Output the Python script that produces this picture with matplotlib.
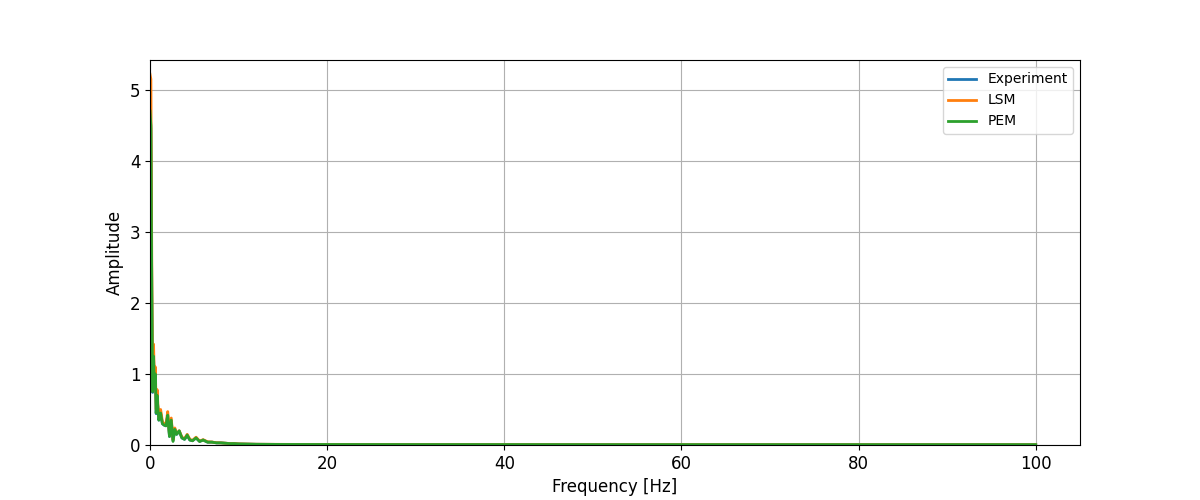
import matplotlib
matplotlib.use("Agg")
import matplotlib.pyplot as plt

# frequency axis (Hz), denser near zero where the spectrum lives
freq = [0.0, 0.1, 0.2, 0.3, 0.4, 0.5, 0.6, 0.7, 0.8, 0.9, 1.0, 1.2, 1.4, 1.6, 1.8,
        2.0, 2.2, 2.4, 2.6, 2.8, 3.0, 3.3, 3.6, 3.9, 4.2, 4.5, 4.8, 5.2, 5.6, 6.0,
        6.5, 7.0, 7.5, 8.0, 8.5, 9.0, 9.5, 10.0, 12.0, 15.0, 20.0, 30.0, 40.0,
        50.0, 60.0, 70.0, 80.0, 90.0, 100.0]

amp_exp = [4.68, 4.45, 2.1, 0.74, 1.22, 0.8, 0.98, 0.44, 0.68, 0.5, 0.35, 0.44, 0.3,
           0.28, 0.27, 0.41, 0.12, 0.34, 0.06, 0.22, 0.15, 0.19, 0.1, 0.08, 0.13,
           0.07, 0.06, 0.1, 0.05, 0.07, 0.04, 0.04, 0.03, 0.03, 0.025, 0.02, 0.02,
           0.015, 0.01, 0.008, 0.007, 0.006, 0.006, 0.005, 0.005, 0.005, 0.005,
           0.005, 0.005]

amp_lsm = [5.22, 5.15, 2.6, 0.9, 1.42, 0.9, 1.1, 0.5, 0.78, 0.55, 0.4, 0.5, 0.33,
           0.3, 0.29, 0.47, 0.14, 0.38, 0.07, 0.24, 0.16, 0.2, 0.11, 0.09, 0.15,
           0.08, 0.065, 0.11, 0.055, 0.075, 0.045, 0.042, 0.032, 0.03, 0.026, 0.021,
           0.02, 0.016, 0.011, 0.009, 0.007, 0.006, 0.006, 0.005, 0.005, 0.005,
           0.005, 0.005, 0.005]

amp_pem = [4.7, 4.5, 2.2, 0.75, 1.25, 0.8, 1.0, 0.45, 0.7, 0.5, 0.35, 0.45, 0.3,
           0.28, 0.27, 0.42, 0.12, 0.35, 0.05, 0.22, 0.15, 0.2, 0.1, 0.08, 0.14,
           0.07, 0.06, 0.1, 0.05, 0.07, 0.04, 0.04, 0.03, 0.03, 0.025, 0.02, 0.02,
           0.015, 0.01, 0.008, 0.007, 0.006, 0.006, 0.005, 0.005, 0.005, 0.005,
           0.005, 0.005]

fig, ax = plt.subplots(figsize=(12, 5), dpi=100)
ax.plot(freq, amp_exp, lw=2, label="Experiment")
ax.plot(freq, amp_lsm, lw=2, label="LSM")
ax.plot(freq, amp_pem, lw=2, label="PEM")

ax.set_xlim(0, 105)
ax.set_ylim(0, 5.42)
ax.set_xlabel("Frequency [Hz]", fontsize=12)
ax.set_ylabel("Amplitude", fontsize=12)
ax.tick_params(labelsize=12)
ax.grid(True)
ax.legend(loc="upper right", fontsize=10)

fig.savefig("out.png")
